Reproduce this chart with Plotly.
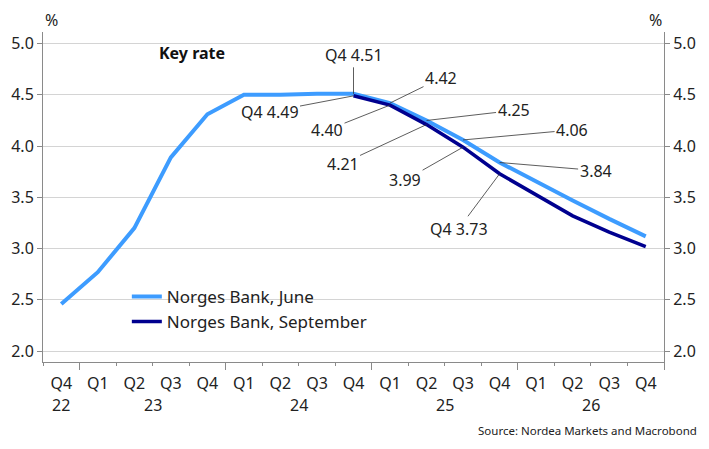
import plotly.graph_objects as go

# ---- data ----
quarters = ["Q4", "Q1", "Q2", "Q3", "Q4", "Q1", "Q2", "Q3", "Q4",
            "Q1", "Q2", "Q3", "Q4", "Q1", "Q2", "Q3", "Q4"]
years = ["22", "23", "23", "23", "23", "24", "24", "24", "24",
         "25", "25", "25", "25", "26", "26", "26", "26"]
june = [2.46, 2.77, 3.20, 3.89, 4.31, 4.50, 4.50, 4.51, 4.51,
        4.42, 4.25, 4.06, 3.84, 3.65, 3.47, 3.29, 3.12]
september = [None, None, None, None, None, None, None, None, 4.49,
             4.40, 4.21, 3.99, 3.73, 3.52, 3.32, 3.16, 3.02]
y_ticks = [2.0, 2.5, 3.0, 3.5, 4.0, 4.5, 5.0]

x = list(range(len(quarters)))

C_JUNE = "#3d9cff"
C_SEPT = "#00008f"
AXIS = "#8a8a8a"
TXT = "#222222"
FONT = "Noto Sans"

fig = go.Figure()
fig.add_trace(go.Scatter(x=x, y=june, mode="lines", name="Norges Bank, June",
                         line=dict(color=C_JUNE, width=4), legendgroup="a",
                         hoverinfo="skip"))
fig.add_trace(go.Scatter(x=x, y=september, mode="lines", name="Norges Bank, September",
                         line=dict(color=C_SEPT, width=3.6), legendgroup="b",
                         hoverinfo="skip"))
# invisible helpers so the secondary axes are drawn
fig.add_trace(go.Scatter(x=x, y=june, yaxis="y2", mode="lines", opacity=0,
                         line=dict(width=0), showlegend=False, hoverinfo="skip"))
fig.add_trace(go.Scatter(x=x, y=june, xaxis="x2", mode="lines", opacity=0,
                         line=dict(width=0), showlegend=False, hoverinfo="skip"))

yr = [1.894, 5.113]
xr = [-0.5, len(x) - 0.5]

# quarter boundaries / year boundaries
bounds = [i - 0.5 for i in range(len(x) + 1)]
year_bounds = [b for b in bounds if b > 0 and (int(b + 0.5) == len(x) or years[int(b + 0.5)] != years[int(b - 0.5)])]

yaxis_common = dict(range=yr, tickmode="array", tickvals=y_ticks,
                    ticktext=[f"{v:.1f}" for v in y_ticks],
                    ticks="outside", ticklen=5, tickcolor=AXIS, tickwidth=1,
                    showline=True, linecolor=AXIS, linewidth=1, zeroline=False,
                    automargin=False,
                    tickfont=dict(family=FONT, size=16, color=TXT))

# page body has an 8px margin, so the figure is 693x433 inside the 709x449 window
fig.update_layout(
    width=693, height=433,
    margin=dict(l=35, r=36.5, t=24, b=79.3),
    paper_bgcolor="white", plot_bgcolor="white",
    font=dict(family=FONT, size=16, color=TXT),
    xaxis=dict(range=xr, tickmode="array", tickvals=x, ticktext=quarters,
               ticks="outside", ticklen=7, tickcolor="rgba(0,0,0,0)",
               showline=True, linecolor=AXIS, linewidth=1, showgrid=False,
               zeroline=False, automargin=False,
               tickfont=dict(family=FONT, size=16, color=TXT),
               minor=dict(tickmode="array", tickvals=bounds, ticks="outside",
                          ticklen=3, tickcolor=AXIS, tickwidth=1, showgrid=False)),
    xaxis2=dict(range=xr, overlaying="x", anchor="y", side="bottom",
                tickmode="array", tickvals=year_bounds, ticks="outside",
                ticklen=7, tickcolor=AXIS, tickwidth=1, showticklabels=False,
                showline=False, showgrid=False, zeroline=False, automargin=False),
    yaxis=dict(**yaxis_common, showgrid=True, gridcolor="#d4d4d4", gridwidth=1),
    yaxis2=dict(**yaxis_common, overlaying="y", side="right", showgrid=False),
    showlegend=True,
    legend=dict(x=0.135, y=0.252, xanchor="left", yanchor="top",
                bgcolor="rgba(0,0,0,0)", font=dict(family=FONT, size=17, color=TXT),
                tracegroupgap=5, traceorder="normal"),
)

ann = []
# year labels centred under their quarters
seen = []
for yv in years:
    if yv not in seen:
        seen.append(yv)
for yv in seen:
    idx = [i for i, v in enumerate(years) if v == yv]
    ann.append(dict(x=sum(idx) / len(idx), y=0, xref="x", yref="paper",
                    text=yv, showarrow=False, yanchor="middle", yshift=-43,
                    font=dict(family=FONT, size=16, color=TXT)))

# data labels (series, index, show quarter, ax, ay)
labels = [
    (june, 8, True, 0, -39),
    (september, 8, True, -84, 16),
    (june, 9, False, 51, -25),
    (september, 9, False, -63, 25),
    (june, 10, False, 87, -10),
    (september, 10, False, -84, 39),
    (june, 11, False, 109, -10),
    (september, 11, False, -58, 33),
    (june, 12, False, 96, 8),
    (september, 12, True, -41, 55),
]
for ser, i, showq, ax, ay in labels:
    txt = f"{ser[i]:.2f}"
    if showq:
        txt = f"{quarters[i]} {txt}"
    ann.append(dict(x=x[i], y=ser[i], xref="x", yref="y", text=txt,
                    showarrow=True, arrowhead=0, arrowwidth=0.8, arrowcolor="#333",
                    standoff=0, ax=ax, ay=ay,
                    font=dict(family=FONT, size=16, color=TXT)))

ann.append(dict(x=0.183, y=5.0 - (53 - 43.3) / 102.5, xref="paper", yref="y",
                text="<b>Key rate</b>", showarrow=False, xanchor="left",
                yanchor="middle", font=dict(family=FONT, size=16, color="#111")))

ann.append(dict(x=0, y=1, xref="paper", yref="paper", text="%", showarrow=False,
                xanchor="left", yanchor="middle", yshift=12,
                font=dict(family=FONT, size=16, color=TXT)))
ann.append(dict(x=1, y=1, xref="paper", yref="paper", text="%", showarrow=False,
                xanchor="right", yanchor="middle", yshift=12,
                font=dict(family=FONT, size=16, color=TXT)))
ann.append(dict(x=1, y=0, xref="paper", yref="paper",
                text="Source: Nordea Markets and Macrobond", showarrow=False,
                xanchor="right", yanchor="middle", yshift=-68, xshift=35,
                font=dict(family=FONT, size=11.5, color=TXT)))

fig.update_layout(annotations=ann)
fig.write_html("out.html")
